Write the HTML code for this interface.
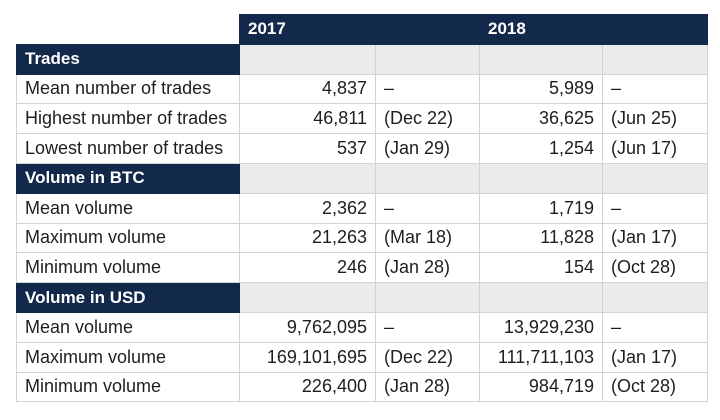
<!DOCTYPE html>
<html><head><meta charset="utf-8"><style>
body{margin:0;background:#fff;width:720px;height:420px;overflow:hidden;font-family:"Liberation Sans",Arial,sans-serif;}
table{position:absolute;left:16px;top:14px;border-collapse:collapse;table-layout:fixed;}
td{height:29.8px;padding:0 8px;font-size:18px;color:#1e1e1e;border:1px solid #d3d3d3;white-space:nowrap;box-sizing:border-box;}
td.n{text-align:right;}
tr.yr td{background:#13294b;color:#fff;font-weight:bold;font-size:17px;border-color:#13294b;}
tr.yr td.blank{background:#fff;border:none;}
tr.grp td{background:#ebebeb;}
tr.grp td.g{background:#13294b;color:#fff;font-weight:bold;font-size:17px;border-color:#13294b;}
</style></head><body>
<table>
<colgroup><col style="width:223px"><col style="width:136px"><col style="width:104px"><col style="width:123px"><col style="width:105px"></colgroup>
<tr class="yr"><td class="blank"></td><td colspan="2">2017</td><td colspan="2">2018</td></tr>
<tr class="grp"><td class="g">Trades</td><td></td><td></td><td></td><td></td></tr>
<tr><td>Mean number of trades</td><td class="n">4,837</td><td>–</td><td class="n">5,989</td><td>–</td></tr>
<tr><td>Highest number of trades</td><td class="n">46,811</td><td>(Dec 22)</td><td class="n">36,625</td><td>(Jun 25)</td></tr>
<tr><td>Lowest number of trades</td><td class="n">537</td><td>(Jan 29)</td><td class="n">1,254</td><td>(Jun 17)</td></tr>
<tr class="grp"><td class="g">Volume in BTC</td><td></td><td></td><td></td><td></td></tr>
<tr><td>Mean volume</td><td class="n">2,362</td><td>–</td><td class="n">1,719</td><td>–</td></tr>
<tr><td>Maximum volume</td><td class="n">21,263</td><td>(Mar 18)</td><td class="n">11,828</td><td>(Jan 17)</td></tr>
<tr><td>Minimum volume</td><td class="n">246</td><td>(Jan 28)</td><td class="n">154</td><td>(Oct 28)</td></tr>
<tr class="grp"><td class="g">Volume in USD</td><td></td><td></td><td></td><td></td></tr>
<tr><td>Mean volume</td><td class="n">9,762,095</td><td>–</td><td class="n">13,929,230</td><td>–</td></tr>
<tr><td>Maximum volume</td><td class="n">169,101,695</td><td>(Dec 22)</td><td class="n">111,711,103</td><td>(Jan 17)</td></tr>
<tr><td>Minimum volume</td><td class="n">226,400</td><td>(Jan 28)</td><td class="n">984,719</td><td>(Oct 28)</td></tr>
</table>
</body></html>
